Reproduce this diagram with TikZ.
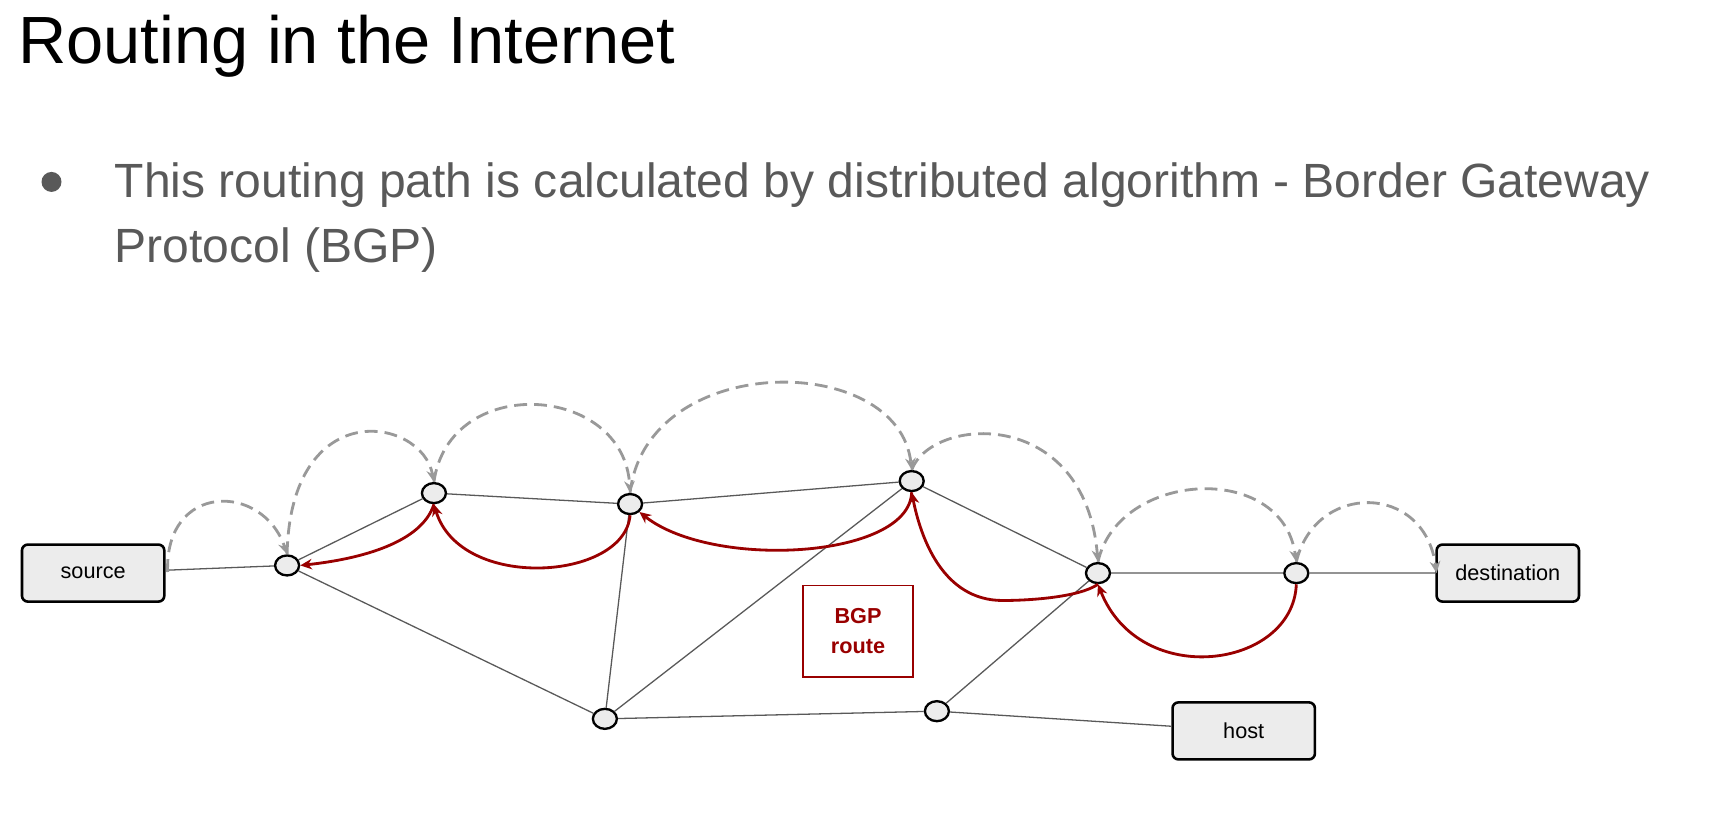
\documentclass[tikz,border=0pt]{standalone}
\usepackage{fontspec}
\setmainfont{Liberation Sans}
\usetikzlibrary{arrows.meta,shapes.geometric}
\begin{document}
\begin{tikzpicture}[x=0.03286cm,y=-0.03286cm,
  rt/.style={ellipse,draw=black,line width=2pt,fill=gray!15,inner sep=0pt,minimum width=0.72cm,minimum height=0.6cm},
  bx/.style={draw=black,line width=2.2pt,rounded corners=5pt,fill=gray!15,minimum width=4.27cm,minimum height=1.71cm,font=\fontsize{18.5}{22}\selectfont},
  ln/.style={draw=black!65,line width=1.1pt},
  ds/.style={draw=black!40,dashed,dash pattern=on 11pt off 6pt,line width=2.4pt,-{Stealth[length=10pt,width=9pt]}},
  rd/.style={draw=red!60!black,line width=2.4pt,-{Stealth[length=10pt,width=9pt]}}]
\useasboundingbox (0,0) rectangle (1566,766);
\node[anchor=base west,font=\fontsize{57}{60}\selectfont] (title) at (13,58) {Routing in the Internet};
\node[circle,fill=black!65,minimum size=0.6cm,inner sep=0pt] (dot) at (47,166) {};
\node[anchor=base west,text=black!65,font=\fontsize{41}{50}\selectfont] (bul) at (101,180) {This routing path is calculated by distributed algorithm - Border Gateway};
\node[anchor=base west,text=black!65,font=\fontsize{41}{50}\selectfont] (bul2) at (101,240) {Protocol (BGP)};
\node[bx] (src) at (85,523) {source};
\node[bx] (dst) at (1376,523) {destination};
\node[bx] (host) at (1135,667) {host};
\node[rt] (n1) at (262,516) {};
\node[rt] (n2) at (396,450) {};
\node[rt] (n3) at (575,460) {};
\node[rt] (n4) at (832,439) {};
\node[rt] (n5) at (1002,523) {};
\node[rt] (n6) at (1183,523) {};
\node[rt] (n7) at (552,656) {};
\node[rt] (n8) at (855,649) {};
\node[draw=red!60!black,line width=1.4pt,minimum width=3.29cm,minimum height=2.73cm,align=center,text=red!60!black,font=\bfseries\fontsize{18.5}{26}\selectfont] (bgp) at (783,576) {BGP\\route};
\draw[ln] (src) -- (n1) (n1) -- (n2) (n2) -- (n3) (n3) -- (n4) (n4) -- (n5) (n5) -- (n6) (n6) -- (dst)
  (n1) -- (n7) (n3) -- (n7) (n4) -- (n7) (n7) -- (n8) (n8) -- (n5) (n8) -- (host);
\coordinate (s0) at (153,522);
\coordinate (d0) at (1311,523);
\draw[ds] (s0) .. controls (150,440) and (240,440) .. (n1.north);
\draw[ds] (n1.north) .. controls (265,360) and (385,380) .. (n2.north);
\draw[ds] (n2.north) .. controls (410,340) and (570,350) .. (n3.north);
\draw[ds] (n3.north) .. controls (590,320) and (820,320) .. (n4.north);
\draw[ds] (n4.north) .. controls (850,380) and (990,370) .. (n5.north);
\draw[ds] (n5.north) .. controls (1020,430) and (1170,420) .. (n6.north);
\draw[ds] (n6.north) .. controls (1200,440) and (1300,440) .. (d0);
\draw[rd] (n2.south) .. controls (385,495) and (330,510) .. (n1.east);
\draw[rd] (n3.south) .. controls (570,530) and (420,540) .. (n2.south);
\draw[rd] (n4.south) .. controls (830,510) and (650,520) .. (n3.south east);
\draw[rd] (n5.south) .. controls (985,545) and (940,548) .. (915,548) .. controls (860,548) and (840,490) .. (n4.south);
\draw[rd] (n6.south) .. controls (1180,610) and (1040,630) .. (n5.south);
\end{tikzpicture}
\end{document}
